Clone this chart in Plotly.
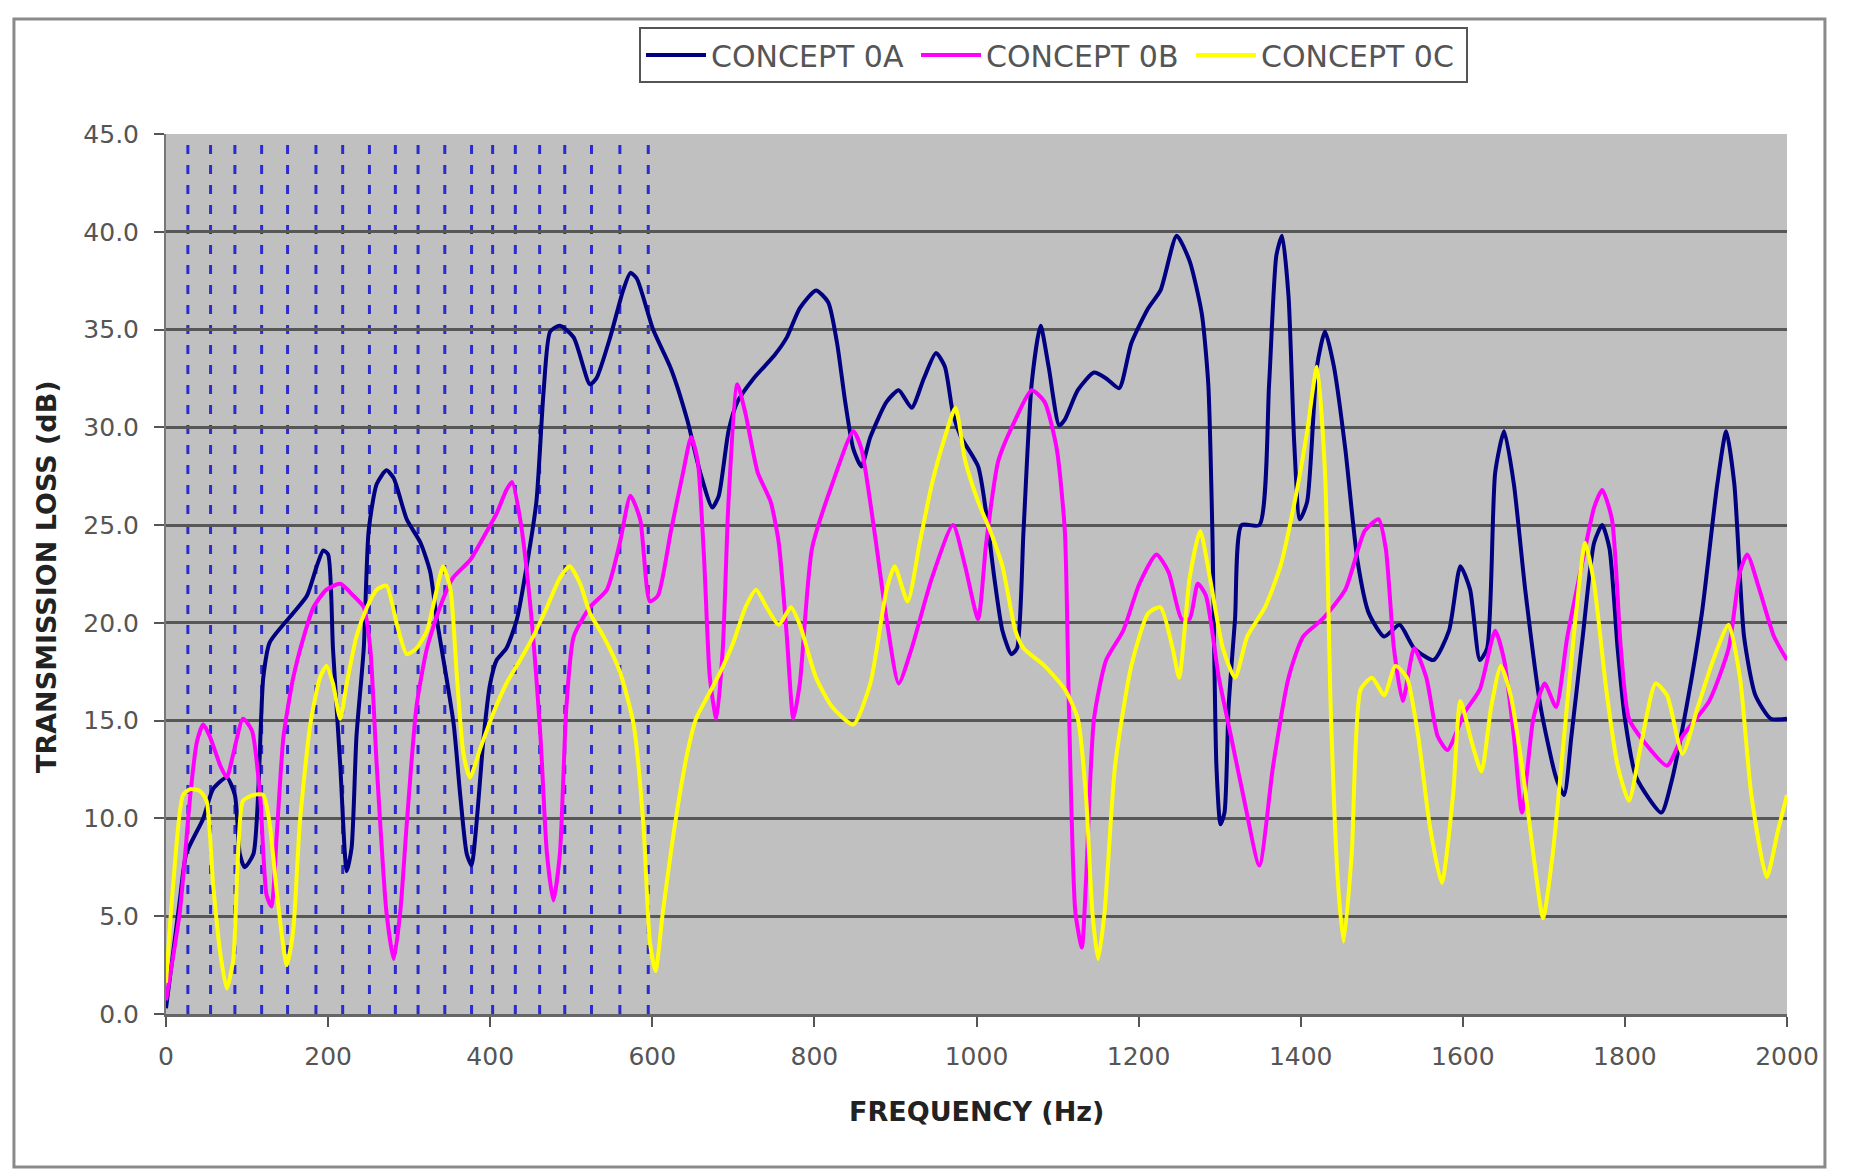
import plotly.graph_objects as go

# ---------------- data ----------------
freq_0a = [
    0, 17, 25, 46, 58, 75, 85, 91, 97, 108,
    120, 128, 157, 174, 186, 194, 200, 206, 215, 223,
    229, 235, 244, 250, 260, 272, 281, 297, 314, 326,
    334, 346, 355, 363, 371, 377, 383, 392, 400, 408,
    420, 433, 445, 457, 466, 474, 486, 503, 523, 531,
    548, 564, 573, 581, 601, 623, 643, 659, 674, 682,
    694, 705, 725, 751, 766, 782, 802, 817, 828, 838,
    848, 858, 869, 889, 904, 920, 935, 950, 961, 971,
    981, 1002, 1012, 1022, 1032, 1043, 1050, 1058, 1068, 1079,
    1089, 1102, 1109, 1125, 1145, 1160, 1176, 1191, 1212, 1227,
    1247, 1263, 1278, 1286, 1291, 1296, 1301, 1306, 1311, 1319,
    1327, 1349, 1361, 1370, 1377, 1385, 1392, 1399, 1408, 1420,
    1430, 1441, 1455, 1470, 1484, 1503, 1522, 1540, 1564, 1583,
    1597, 1609, 1621, 1630, 1640, 1651, 1663, 1677, 1696, 1715,
    1725, 1734, 1748, 1762, 1772, 1781, 1791, 1800, 1814, 1845,
    1857, 1876, 1895, 1914, 1925, 1935, 1947, 1961, 1980, 2000]
tl_0a = [
    0.3, 5.8, 8.2, 10.0, 11.5, 12.1, 11.2, 8.2, 7.5, 8.2,
    17.2, 19.0, 20.5, 21.4, 22.9, 23.7, 23.5, 18.7, 12.7, 7.3,
    8.5, 14.2, 18.7, 24.7, 27.1, 27.8, 27.4, 25.3, 24.1, 22.6,
    20.2, 17.2, 14.8, 11.2, 8.2, 7.6, 9.7, 14.2, 16.9, 18.1,
    18.7, 20.2, 22.9, 26.2, 31.9, 34.9, 35.2, 34.6, 32.2, 32.5,
    34.6, 37.0, 37.9, 37.6, 35.0, 33.0, 30.4, 27.7, 25.9, 26.5,
    29.8, 31.3, 32.5, 33.7, 34.6, 36.1, 37.0, 36.4, 34.3, 31.3,
    28.9, 28.0, 29.5, 31.3, 31.9, 31.0, 32.5, 33.8, 33.1, 30.7,
    29.5, 28.0, 25.6, 22.3, 19.6, 18.4, 18.7, 24.7, 32.2, 35.2,
    33.1, 30.1, 30.4, 31.9, 32.8, 32.5, 32.0, 34.3, 36.1, 37.0,
    39.8, 38.5, 35.8, 32.2, 24.7, 12.7, 9.7, 10.3, 15.7, 20.2,
    25.0, 25.0, 32.2, 38.8, 39.8, 36.7, 29.2, 25.3, 26.2, 33.1,
    34.9, 33.1, 28.9, 23.2, 20.5, 19.3, 19.9, 18.7, 18.1, 19.6,
    22.9, 21.7, 18.1, 18.7, 27.7, 29.8, 27.1, 21.7, 15.7, 12.1,
    11.2, 14.2, 19.3, 24.1, 25.0, 23.8, 18.7, 15.1, 12.1, 10.3,
    11.8, 15.7, 20.5, 27.1, 29.8, 27.1, 19.3, 16.3, 15.1, 15.1]

freq_0b = [
    0, 17, 30, 38, 46, 54, 67, 75, 83, 95,
    106, 116, 124, 130, 137, 145, 157, 170, 182, 198,
    215, 231, 244, 252, 260, 272, 281, 289, 297, 309,
    322, 338, 354, 375, 396, 408, 420, 427, 437, 449,
    462, 470, 478, 486, 494, 503, 523, 544, 560, 573,
    585, 597, 607, 623, 638, 648, 656, 664, 671, 679,
    687, 694, 705, 715, 730, 746, 756, 766, 774, 782,
    797, 822, 848, 858, 874, 889, 904, 920, 945, 971,
    986, 1002, 1012, 1027, 1048, 1068, 1084, 1099, 1109, 1114,
    1122, 1130, 1135, 1145, 1160, 1181, 1201, 1222, 1237, 1253,
    1263, 1273, 1283, 1299, 1314, 1329, 1349, 1366, 1385, 1403,
    1427, 1455, 1479, 1496, 1505, 1515, 1526, 1540, 1555, 1569,
    1581, 1602, 1621, 1640, 1651, 1663, 1673, 1687, 1701, 1715,
    1729, 1748, 1762, 1772, 1784, 1795, 1805, 1824, 1852, 1871,
    1904, 1928, 1942, 1951, 1966, 1984, 2000]
tl_0b = [
    0.7, 5.2, 11.2, 13.9, 14.8, 14.2, 12.7, 12.1, 13.3, 15.1,
    14.5, 11.2, 6.1, 5.5, 9.4, 14.2, 17.2, 19.3, 20.8, 21.7,
    22.0, 21.4, 20.8, 18.7, 12.7, 5.2, 2.8, 5.2, 9.7, 15.7,
    18.7, 20.8, 22.3, 23.2, 24.7, 25.6, 26.8, 27.2, 25.3, 21.1,
    14.2, 8.2, 5.8, 8.2, 15.7, 19.3, 20.8, 21.7, 24.1, 26.5,
    25.3, 21.1, 21.4, 24.7, 27.7, 29.5, 28.3, 23.2, 17.2, 15.1,
    18.7, 26.2, 32.2, 30.7, 27.7, 26.2, 24.1, 19.3, 15.1, 16.9,
    23.8, 27.1, 29.8, 28.9, 24.7, 20.2, 16.9, 18.7, 22.3, 25.0,
    22.9, 20.2, 24.1, 28.3, 30.4, 31.9, 31.3, 28.9, 24.7, 15.7,
    5.2, 3.4, 6.7, 15.1, 18.1, 19.6, 22.0, 23.5, 22.6, 20.2,
    20.2, 22.0, 21.4, 17.2, 14.2, 11.2, 7.6, 12.7, 17.2, 19.3,
    20.2, 21.7, 24.7, 25.3, 23.8, 18.7, 16.0, 18.7, 17.2, 14.2,
    13.5, 15.4, 16.6, 19.6, 18.1, 14.2, 10.3, 15.1, 16.9, 15.7,
    19.3, 23.2, 25.9, 26.8, 25.3, 18.7, 15.1, 13.9, 12.7, 14.2,
    16.0, 18.7, 22.6, 23.5, 21.7, 19.3, 18.1]

freq_0c = [
    0, 9, 21, 30, 42, 50, 58, 67, 75, 83,
    89, 95, 108, 120, 128, 137, 149, 157, 165, 178,
    190, 198, 206, 215, 223, 235, 248, 260, 272, 285,
    297, 309, 322, 334, 342, 351, 359, 367, 375, 388,
    404, 420, 437, 453, 470, 486, 498, 511, 523, 540,
    560, 577, 589, 597, 604, 613, 628, 643, 654, 669,
    684, 700, 715, 728, 741, 756, 771, 782, 802, 822,
    848, 869, 889, 899, 915, 930, 945, 961, 974, 986,
    1002, 1017, 1032, 1048, 1058, 1084, 1109, 1125, 1135, 1143,
    1150, 1158, 1171, 1191, 1212, 1227, 1242, 1250, 1263, 1276,
    1288, 1304, 1319, 1334, 1356, 1375, 1394, 1408, 1420, 1430,
    1437, 1446, 1453, 1463, 1474, 1488, 1503, 1517, 1531, 1545,
    1559, 1574, 1588, 1597, 1611, 1623, 1635, 1647, 1659, 1673,
    1687, 1699, 1711, 1725, 1739, 1751, 1762, 1777, 1791, 1805,
    1819, 1838, 1852, 1871, 1890, 1909, 1928, 1942, 1956, 1975,
    1989, 2000]
tl_0c = [
    1.6, 6.7, 11.2, 11.5, 11.4, 10.9, 6.7, 3.1, 1.3, 2.8,
    8.2, 10.9, 11.2, 11.2, 9.7, 6.1, 2.5, 4.3, 9.7, 14.8,
    17.2, 17.8, 16.9, 15.1, 16.9, 19.3, 20.8, 21.7, 21.9, 19.9,
    18.4, 18.7, 19.6, 21.7, 22.9, 21.7, 17.2, 13.3, 12.1, 13.6,
    15.4, 16.9, 18.1, 19.3, 20.8, 22.3, 22.9, 22.0, 20.5, 19.3,
    17.5, 14.8, 9.7, 3.7, 2.2, 5.2, 9.7, 13.3, 15.1, 16.3,
    17.5, 19.0, 20.8, 21.7, 20.8, 19.9, 20.8, 19.9, 17.2, 15.7,
    14.8, 16.9, 21.7, 22.9, 21.1, 24.1, 27.1, 29.5, 31.0, 28.3,
    26.2, 24.7, 22.9, 19.6, 18.7, 17.8, 16.6, 15.1, 11.2, 5.2,
    2.8, 5.2, 12.7, 17.8, 20.5, 20.8, 18.7, 17.2, 22.3, 24.7,
    22.3, 18.7, 17.2, 19.3, 20.8, 22.9, 26.5, 29.8, 33.1, 27.7,
    15.7, 6.7, 3.7, 8.2, 16.6, 17.2, 16.3, 17.8, 17.2, 14.2,
    9.7, 6.7, 11.2, 16.0, 13.9, 12.4, 15.7, 17.8, 16.3, 12.7,
    8.2, 4.9, 8.2, 14.2, 20.2, 24.1, 22.0, 16.6, 12.7, 10.9,
    13.6, 16.9, 16.3, 13.3, 15.7, 18.1, 19.9, 17.2, 11.2, 7.0,
    9.4, 11.2]

# frequencies of the dashed vertical markers (Hz)
marker_freqs = [27, 55, 85, 118, 150, 185, 218, 251, 283, 311,
                344, 377, 403, 431, 461, 492, 525, 560, 595]

series_names = ["CONCEPT 0A", "CONCEPT 0B", "CONCEPT 0C"]
series_colors = ["#000080", "#FF00FF", "#FFFF00"]
x_ticks = list(range(0, 2001, 200))
y_ticks = [0, 5, 10, 15, 20, 25, 30, 35, 40, 45]

FONT = "DejaVu Sans"

fig = go.Figure()
for name, color, xs, ys in zip(series_names, series_colors,
                               [freq_0a, freq_0b, freq_0c],
                               [tl_0a, tl_0b, tl_0c]):
    fig.add_trace(go.Scatter(
        x=xs, y=ys, mode="lines", name=name,
        line=dict(color=color, width=4, shape="spline", smoothing=0.6),
    ))

shapes = []
for f in marker_freqs:
    shapes.append(dict(type="line", xref="x", yref="paper", x0=f, x1=f, y0=0, y1=1,
                       line=dict(color="#2B2BD0", width=3, dash="9px,11px"),
                       layer="between"))
# outer chart border
shapes.append(dict(type="rect", xref="paper", yref="paper",
                   x0=-0.0938, x1=1.0234, y0=-0.1739, y1=1.1307,
                   line=dict(color="#8A8A8A", width=3), layer="above"))

fig.update_layout(
    width=1859, height=1174,
    margin=dict(l=166, r=72, t=134, b=160),
    paper_bgcolor="white",
    plot_bgcolor="#C0C0C0",
    font=dict(family=FONT, color="#555555"),
    shapes=shapes,
    showlegend=True,
    legend=dict(orientation="h", x=0.2918, xanchor="left", y=1.1215, yanchor="top",
                bgcolor="white", bordercolor="#555555", borderwidth=2,
                font=dict(family=FONT, size=30, color="#555555"),
                itemwidth=60, entrywidth=200, tracegroupgap=0),
    annotations=[
        dict(text="<b>TRANSMISSION LOSS (dB)</b>", xref="paper", yref="paper",
             x=-0.0734, y=0.4966, textangle=-90, showarrow=False,
             xanchor="center", yanchor="middle",
             font=dict(family=FONT, size=27, color="#222222")),
        dict(text="<b>FREQUENCY (Hz)</b>", xref="paper", yref="paper",
             x=0.5, y=-0.1113, showarrow=False, xanchor="center", yanchor="middle",
             font=dict(family=FONT, size=27, color="#222222")),
    ],
)

fig.update_xaxes(range=[0, 2000], tickvals=x_ticks, ticks="outside", ticklen=10,
                 tickwidth=2, tickcolor="#555555", showgrid=False, zeroline=False,
                 showline=True, linecolor="#666666", linewidth=3,
                 tickfont=dict(family=FONT, size=25, color="#555555"),
                 ticklabelstandoff=8)
fig.update_yaxes(range=[0, 45], tickvals=y_ticks, tickformat=".1f", ticks="outside",
                 ticklen=10, tickwidth=2, tickcolor="#555555",
                 showgrid=True, gridcolor="#575757", gridwidth=3, zeroline=False,
                 showline=True, linecolor="#777777", linewidth=2,
                 tickfont=dict(family=FONT, size=25, color="#555555"),
                 ticklabelstandoff=10)

fig.write_html("out.html")
